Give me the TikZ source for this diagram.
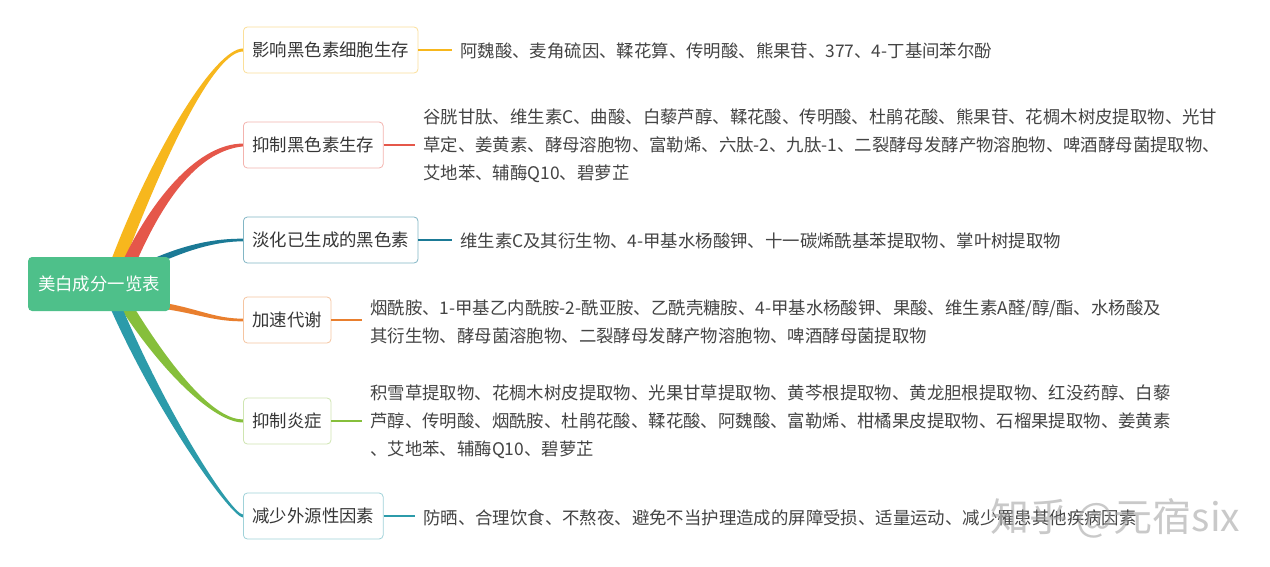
\documentclass[tikz,border=0pt]{standalone}
\usepackage{fontspec}
\setmainfont{Noto Sans CJK SC}
\usetikzlibrary{calc}
\pgfdeclarelayer{bg}
\pgfsetlayers{bg,main}
\definecolor{cY}{HTML}{F7B71D}
\definecolor{cR}{HTML}{E5574A}
\definecolor{cB}{HTML}{1B7A96}
\definecolor{cO}{HTML}{E97F2E}
\definecolor{cG}{HTML}{86BF3B}
\definecolor{cT}{HTML}{2C9BAA}
\definecolor{rootgreen}{HTML}{4EC08A}
\definecolor{txtgray}{HTML}{444444}
\tikzset{
  rootbox/.style={fill=rootgreen, rounded corners=4pt, text=white, inner xsep=10pt,
    minimum height=54pt, font=\fontsize{17.4}{22}\selectfont},
  branchbox/.style={draw=#1, fill=white, rounded corners=4pt, line width=0.8pt,
    text=txtgray!80!black, inner xsep=9pt, minimum height=46pt, anchor=west,
    font=\fontsize{17.4}{22}\selectfont},
  leaftext/.style={anchor=west, align=left, inner xsep=8pt, inner ysep=0pt,
    text=txtgray, font=\fontsize{17.4}{28}\selectfont},
  twig/.style={draw=#1, line width=1.6pt}
}
\begin{document}
\begin{tikzpicture}[x=1pt,y=-1pt]
\useasboundingbox (0,0) rectangle (1270,567);

% root and branch boxes
\node[rootbox] (root) at (99,284) {美白成分一览表};
\node[branchbox=cY!45] (b1) at (243,50) {影响黑色素细胞生存};
\node[branchbox=cR!45] (b2) at (243,145) {抑制黑色素生存};
\node[branchbox=cB!55] (b3) at (243,240) {淡化已生成的黑色素};
\node[branchbox=cO!45] (b4) at (243,320) {加速代谢};
\node[branchbox=cG!40] (b5) at (243,421) {抑制炎症};
\node[branchbox=cT!45] (b6) at (243,516) {减少外源性因素};

% leaf texts
\node[leaftext] (t1) at (452,51) {阿魏酸、麦角硫因、鞣花算、传明酸、熊果苷、377、4-丁基间苯尔酚};
\node[leaftext] (t2) at (415,146) {谷胱甘肽、维生素C、曲酸、白藜芦醇、鞣花酸、传明酸、杜鹃花酸、熊果苷、花椆木树皮提取物、光甘\\草定、姜黄素、酵母溶胞物、富勒烯、六肽-2、九肽-1、二裂酵母发酵产物溶胞物、啤酒酵母菌提取物、\\艾地苯、辅酶Q10、碧萝芷};
\node[leaftext] (t3) at (452,241) {维生素C及其衍生物、4-甲基水杨酸钾、十一碳烯酰基苯提取物、掌叶树提取物};
\node[leaftext] (t4) at (362,322) {烟酰胺、1-甲基乙内酰胺-2-酰亚胺、乙酰壳糖胺、4-甲基水杨酸钾、果酸、维生素A醛/醇/酯、水杨酸及\\其衍生物、酵母菌溶胞物、二裂酵母发酵产物溶胞物、啤酒酵母菌提取物};
\node[leaftext] (t5) at (362,422) {积雪草提取物、花椆木树皮提取物、光果甘草提取物、黄芩根提取物、黄龙胆根提取物、红没药醇、白藜\\芦醇、传明酸、烟酰胺、杜鹃花酸、鞣花酸、阿魏酸、富勒烯、柑橘果皮提取物、石榴果提取物、姜黄素\\、艾地苯、辅酶Q10、碧萝芷};
\node[leaftext] (t6) at (415,518) {防晒、合理饮食、不熬夜、避免不当护理造成的屏障受损、适量运动、减少罹患其他疾病因素};

% short connectors box -> text
\draw[twig=cY] (b1.east) -- (b1.east -| t1.west);
\draw[twig=cR] (b2.east) -- (b2.east -| t2.west);
\draw[twig=cB] (b3.east) -- (b3.east -| t3.west);
\draw[twig=cO] (b4.east) -- (b4.east -| t4.west);
\draw[twig=cG] (b5.east) -- (b5.east -| t5.west);
\draw[twig=cT] (b6.east) -- (b6.east -| t6.west);

% tapered branches root -> boxes (behind root)
\begin{pgfonlayer}{bg}
\fill[white] (0,0) rectangle (1270,567);
\fill[cY] ($(root.north west)+(83,4)$) .. controls (153,150) and (215,48.5) .. ($(b1.west)+(0,-1.5)$)
  -- ($(b1.west)+(0,1.5)$) .. controls (215,51.5) and (167,150) .. ($(root.north west)+(97,4)$) -- cycle;
\fill[cR] ($(root.north west)+(95,4)$) .. controls (154,195) and (200,143.5) .. ($(b2.west)+(0,-1.4)$)
  -- ($(b2.west)+(0,1.4)$) .. controls (200,151) and (166,195) .. ($(root.north west)+(109,4)$) -- cycle;
\fill[cB] ($(root.north east)+(-14,0.5)$) .. controls (188,244) and (215,238.5) .. ($(b3.west)+(0,-1.3)$)
  -- ($(b3.west)+(0,1.3)$) .. controls (215,241.5) and (188,250) .. ($(root.north east)+(-14,7.5)$) -- cycle;
\fill[cO] ($(root.south east)+(-4,-8)$) .. controls (200,309.5) and (215,318.5) .. ($(b4.west)+(0,-1.3)$)
  -- ($(b4.west)+(0,1.3)$) .. controls (215,321.5) and (200,314.5) .. ($(root.south east)+(-4,-2)$) -- cycle;
\fill[cG] ($(root.south west)+(106,-4)$) .. controls (176,375) and (215,419.5) .. ($(b5.west)+(0,-1.5)$)
  -- ($(b5.west)+(0,1.5)$) .. controls (215,422.5) and (164,375) .. ($(root.south west)+(92,-4)$) -- cycle;
\fill[cT] ($(root.south west)+(94,-4)$) .. controls (170,420) and (232,514.5) .. ($(b6.west)+(0,-1.5)$)
  -- ($(b6.west)+(0,1.5)$) .. controls (232,517.5) and (160,420) .. ($(root.south west)+(82,-4)$) -- cycle;
\end{pgfonlayer}

% watermark
\node[anchor=west, text=gray!70, opacity=0.6, inner sep=0pt,
  font=\fontsize{39}{40}\selectfont] (wm) at (990,518) {知乎 @元宿six};
\end{tikzpicture}
\end{document}
